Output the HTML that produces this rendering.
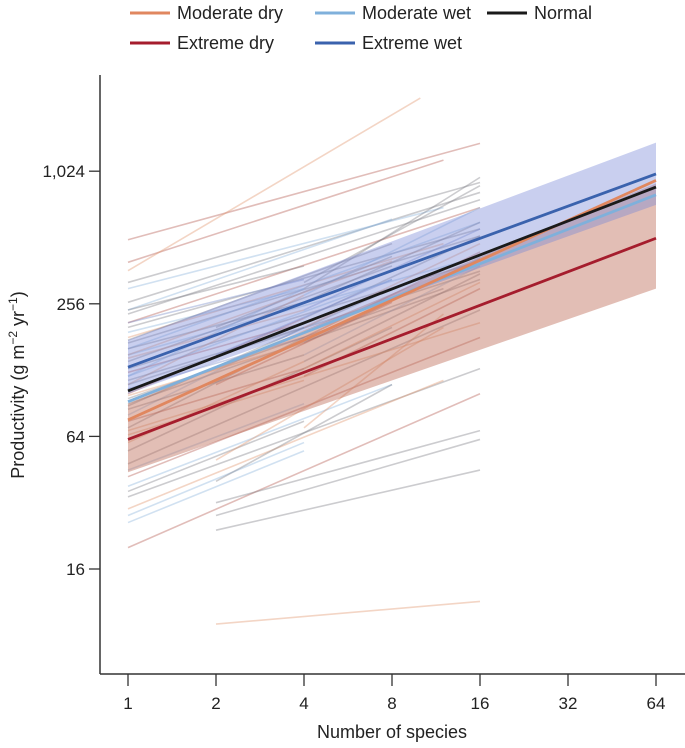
<!DOCTYPE html>
<html><head><meta charset="utf-8"><style>
body{margin:0;background:#fff;}
svg text{font-family:"Liberation Sans",sans-serif;fill:#222;}
</style></head><body>
<svg id="c" width="685" height="743" viewBox="0 0 685 743" xmlns="http://www.w3.org/2000/svg">
<g id="bg"></g>
<g id="bands"></g>
<g id="main"></g>
<g id="axes"></g>
<g id="legend"></g>
</svg>
<script>
const xTicks=[1,2,4,8,16,32,64];
const yTicks=[16,64,256,1024];
const yTickLabels=["16","64","256","1,024"];
const seriesNames=["Moderate dry","Extreme dry","Moderate wet","Extreme wet","Normal"];
const seriesColors=["#e0875f","#a51d2d","#7fb0db","#3a62ad","#1a1a1a"];
const fitStart=[76,62,92,132,103];
const fitEnd=[930,508,800,995,868];
const bandLowStart=[null,44,null,100,null];
const bandHighStart=[null,90,null,175,null];
const bandLowEnd=[null,300,null,720,null];
const bandHighEnd=[null,900,null,1380,null];
const bandColors=[null,"rgba(190,110,90,0.45)",null,"rgba(120,135,215,0.4)",null];
// background study lines: [x0,x1,p0,p1,colorIndex]
const bgX0=[1,1,1,1,1,1,1,1,1,1,1,1,1,1,1,1,1,1,1,1,1,1,1,1,1,1,1,1,1,1,1,2,2,2,2,4,4,4,1,1,1,1,1,1,2,2,4,1,
 1,1,1,1,1,1,1,1,1,1,1,1,4,4,4,4,4,4,4,4,4,4,2,2,2,1,1,1];
const bgX1=[16,12,10,16,16,12,16,16,8,16,12,16,16,8,16,4,4,4,12,16,4,4,4,8,16,16,8,16,12,4,16,16,16,16,16,16,16,12,16,16,8,4,4,4,12,8,16,16,
 4,4,4,4,4,4,4,4,4,4,4,4,16,16,16,16,16,16,16,16,16,16,8,8,8,8,8,8];
const bgP0=[500,395,362,320,260,300,230,210,240,200,180,170,150,140,130,120,110,100,95,90,80,70,60,55,48,42,38,34,30,28,20,9,24,28,32,320,300,70,110,160,88,45,36,26,50,40,280,68,
 240,210,190,160,145,125,115,105,98,85,75,65,260,240,220,200,180,170,150,140,130,120,200,150,110,175,150,120];
const bgP1=[1370,1150,2200,910,820,700,760,700,620,560,480,520,420,380,400,300,280,220,300,330,200,180,140,200,240,180,110,130,115,60,100,11.4,45,62,68,880,960,230,360,600,300,90,75,55,200,110,700,210,
 380,330,300,260,240,210,200,180,170,150,130,115,600,560,520,480,440,410,380,350,320,300,420,330,260,480,400,330];
const bgC=[3,3,0,4,4,2,4,3,2,4,0,4,2,4,4,2,0,3,4,4,2,4,0,4,4,3,2,4,0,2,3,0,4,4,4,4,4,0,4,2,4,2,4,2,0,4,2,0,
 4,1,2,4,0,3,4,1,0,4,3,0,4,1,4,0,3,4,2,4,0,3,4,1,3,4,0,2];
const bgPalette=["rgba(225,150,110,0.4)","rgba(120,140,200,0.4)","rgba(140,180,220,0.4)","rgba(180,90,80,0.4)","rgba(120,120,130,0.38)"];

const NS="http://www.w3.org/2000/svg";
const X0=128,XS=88,Y16=569,YS=66.3;
function sx(n){return X0+Math.log2(n)*XS;}
function sy(p){return Y16-(Math.log2(p)-4)*YS;}
function mk(tag,attrs,parent){const e=document.createElementNS(NS,tag);for(const k in attrs)e.setAttribute(k,attrs[k]);parent.appendChild(e);return e;}
const bg=document.getElementById('bg');
for(let i=0;i<bgX0.length;i++){
  const l=mk('line',{x1:sx(bgX0[i]),x2:sx(bgX1[i]),y1:sy(bgP0[i]),y2:sy(bgP1[i]),stroke:bgPalette[bgC[i]],'stroke-width':1.6},bg);
  
  
}
const bands=document.getElementById('bands');
for(let i=0;i<seriesNames.length;i++){
  if(bandLowStart[i]==null)continue;
  const pts=[[sx(1),sy(bandLowStart[i])],[sx(64),sy(bandLowEnd[i])],[sx(64),sy(bandHighEnd[i])],[sx(1),sy(bandHighStart[i])]];
  const p=mk('polygon',{points:pts.map(q=>q.join(',')).join(' '),fill:bandColors[i]},bands);
  
  
}
const main=document.getElementById('main');
const order=[2,0,1,4,3];
for(const i of order){
  const l=mk('line',{x1:sx(1),x2:sx(64),y1:sy(fitStart[i]),y2:sy(fitEnd[i]),stroke:seriesColors[i],'stroke-width':2.8},main);
  
  
}
const ax=document.getElementById('axes');
const AXY=674;
let a=mk('line',{x1:100,x2:100,y1:75,y2:AXY,stroke:'#333','stroke-width':1.5},ax);


a=mk('line',{x1:100,x2:685,y1:AXY,y2:AXY,stroke:'#333','stroke-width':1.5},ax);


for(const t of xTicks){
  mk('line',{x1:sx(t),x2:sx(t),y1:AXY,y2:AXY+12,stroke:'#333','stroke-width':1.3},ax);
  const tx=mk('text',{x:sx(t),y:AXY+35,'text-anchor':'middle','font-size':17},ax);
  tx.textContent=t;
  
  
}
for(let i=0;i<yTicks.length;i++){
  mk('line',{x1:89,x2:100,y1:sy(yTicks[i]),y2:sy(yTicks[i]),stroke:'#333','stroke-width':1.3},ax);
  const tx=mk('text',{x:85,y:sy(yTicks[i])+6,'text-anchor':'end','font-size':17},ax);
  tx.textContent=yTickLabels[i];
  
  
}
</script>
<script>
(function(){
const NS="http://www.w3.org/2000/svg";
const svg=document.getElementById('c');
const xt=document.createElementNS(NS,'text');
xt.setAttribute('x',392);xt.setAttribute('y',738);xt.setAttribute('text-anchor','middle');xt.setAttribute('font-size',18);
xt.textContent='Number of species';


svg.appendChild(xt);
const yt=document.createElementNS(NS,'text');
yt.setAttribute('transform','translate(24,385) rotate(-90)');yt.setAttribute('text-anchor','middle');yt.setAttribute('font-size',18);
yt.innerHTML='Productivity (g m<tspan dy="-7" font-size="12">−2</tspan><tspan dy="7"> yr</tspan><tspan dy="-7" font-size="12">−1</tspan><tspan dy="7">)</tspan>';


svg.appendChild(yt);
const lg=document.getElementById('legend');
const items=[[130,13,"#e0875f","Moderate dry"],[130,43,"#a51d2d","Extreme dry"],[315,13,"#7fb0db","Moderate wet"],[315,43,"#3a62ad","Extreme wet"],[487,13,"#1a1a1a","Normal"]];
for(const it of items){
  const g=document.createElementNS(NS,'g');
  
  
  const l=document.createElementNS(NS,'line');
  l.setAttribute('x1',it[0]);l.setAttribute('x2',it[0]+40);l.setAttribute('y1',it[1]);l.setAttribute('y2',it[1]);
  l.setAttribute('stroke',it[2]);l.setAttribute('stroke-width',3);
  g.appendChild(l);
  const t=document.createElementNS(NS,'text');
  t.setAttribute('x',it[0]+47);t.setAttribute('y',it[1]+6);t.setAttribute('font-size',18);
  t.textContent=it[3];
  g.appendChild(t);
  lg.appendChild(g);
}
})();
</script>
</body></html>
